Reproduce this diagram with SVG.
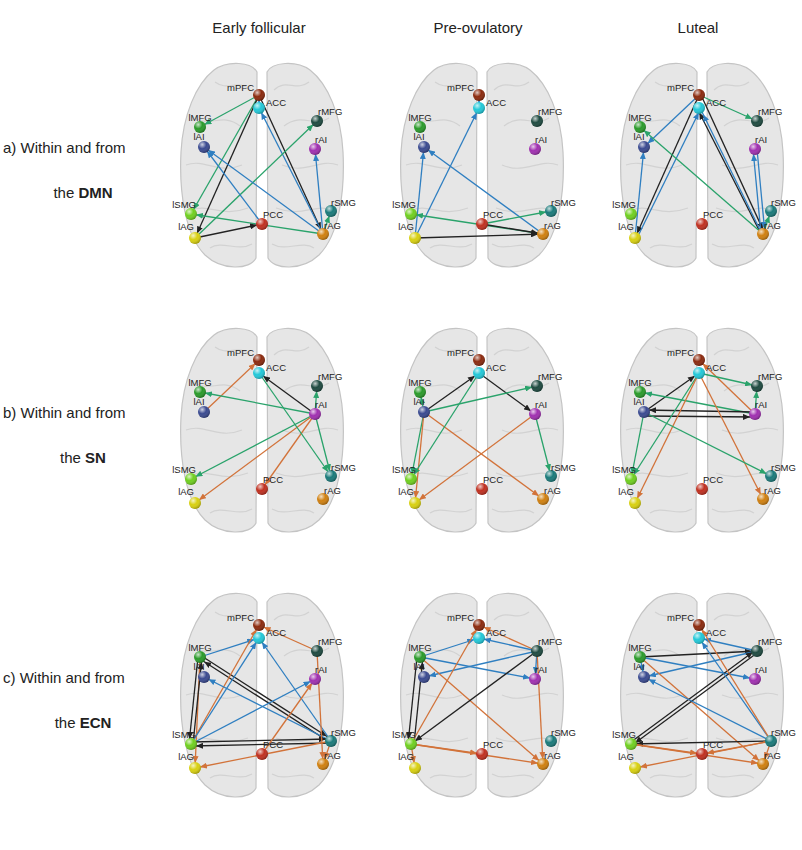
<svg xmlns="http://www.w3.org/2000/svg" xmlns:xlink="http://www.w3.org/1999/xlink" width="802" height="850" viewBox="0 0 802 850">
<style>
.t{font-family:"Liberation Sans",Arial,sans-serif;font-size:15px;fill:#222}
.lb{font-family:"Liberation Sans",Arial,sans-serif;font-size:9.5px;fill:#222}
.hem{fill:#e6e6e6;stroke:#c4c4c4;stroke-width:1.2}
.gy{fill:none;stroke:#d2d2d2;stroke-width:1.2}
line{stroke-width:1.3;fill:none}
.g{stroke:#2aa36b;marker-end:url(#mg)}
.b{stroke:#2f7fc1;marker-end:url(#mb)}
.k{stroke:#222;marker-end:url(#mk)}
.o{stroke:#d2733a;marker-end:url(#mo)}
</style>
<defs>
<marker id="mg" viewBox="0 0 7 6" refX="12" refY="3" markerWidth="7" markerHeight="6" markerUnits="userSpaceOnUse" orient="auto"><path d="M0,0L7,3L0,6z" fill="#2aa36b"/></marker>
<marker id="mb" viewBox="0 0 7 6" refX="12" refY="3" markerWidth="7" markerHeight="6" markerUnits="userSpaceOnUse" orient="auto"><path d="M0,0L7,3L0,6z" fill="#2f7fc1"/></marker>
<marker id="mk" viewBox="0 0 7 6" refX="12" refY="3" markerWidth="7" markerHeight="6" markerUnits="userSpaceOnUse" orient="auto"><path d="M0,0L7,3L0,6z" fill="#222"/></marker>
<marker id="mo" viewBox="0 0 7 6" refX="12" refY="3" markerWidth="7" markerHeight="6" markerUnits="userSpaceOnUse" orient="auto"><path d="M0,0L7,3L0,6z" fill="#d2733a"/></marker>
<radialGradient id="sh" cx="0.35" cy="0.3" r="0.7"><stop offset="0" stop-color="#fff" stop-opacity="0.75"/><stop offset="0.5" stop-color="#fff" stop-opacity="0"/><stop offset="1" stop-color="#000" stop-opacity="0.25"/></radialGradient>
<g id="brain">
<path class="hem" d="M257,72C252,62 228,60 214,70C196,84 183,115 181,152C179,192 185,235 205,255C222,271 250,270 256,258Z"/>
<path class="hem" d="M267,72C272,62 296,60 310,70C328,84 341,115 343,152C345,192 339,235 319,255C302,271 274,270 268,258Z"/>
<path class="gy" d="M215,82C228,92 238,78 250,90M195,118C210,128 222,112 240,126M186,165C205,158 218,175 242,165M192,210C208,203 222,218 248,208M210,248C222,240 238,252 252,244M309,82C296,92 286,78 274,90M329,118C314,128 302,112 284,126M338,165C319,158 306,175 282,165M332,210C316,203 302,218 276,208M314,248C302,240 286,252 272,244"/>
</g>
<g id="n-mPFC"><circle cx="259" cy="95" r="6" fill="#8b2a0e"/><circle cx="259" cy="95" r="6" fill="url(#sh)"/><text class="lb" x="254" y="91" text-anchor="end">mPFC</text></g>
<g id="n-ACC"><circle cx="259" cy="108" r="6" fill="#22c8d8"/><circle cx="259" cy="108" r="6" fill="url(#sh)"/><text class="lb" x="266" y="106">ACC</text></g>
<g id="n-lMFG"><circle cx="200" cy="127" r="6" fill="#2a9a2a"/><circle cx="200" cy="127" r="6" fill="url(#sh)"/><text class="lb" x="200" y="121" text-anchor="middle">lMFG</text></g>
<g id="n-lAI"><circle cx="204" cy="147" r="6" fill="#3a4a90"/><circle cx="204" cy="147" r="6" fill="url(#sh)"/><text class="lb" x="199" y="140" text-anchor="middle">lAI</text></g>
<g id="n-rMFG"><circle cx="317" cy="121" r="6" fill="#1e4a40"/><circle cx="317" cy="121" r="6" fill="url(#sh)"/><text class="lb" x="318" y="115">rMFG</text></g>
<g id="n-rAI"><circle cx="315" cy="149" r="6" fill="#a030b0"/><circle cx="315" cy="149" r="6" fill="url(#sh)"/><text class="lb" x="315" y="143">rAI</text></g>
<g id="n-lSMG"><circle cx="191" cy="214" r="6" fill="#70d020"/><circle cx="191" cy="214" r="6" fill="url(#sh)"/><text class="lb" x="196" y="208" text-anchor="end">lSMG</text></g>
<g id="n-lAG"><circle cx="195" cy="238" r="6" fill="#d8d010"/><circle cx="195" cy="238" r="6" fill="url(#sh)"/><text class="lb" x="194" y="230" text-anchor="end">lAG</text></g>
<g id="n-PCC"><circle cx="262" cy="224" r="6" fill="#c03020"/><circle cx="262" cy="224" r="6" fill="url(#sh)"/><text class="lb" x="263" y="218">PCC</text></g>
<g id="n-rSMG"><circle cx="331" cy="211" r="6" fill="#1a7a7a"/><circle cx="331" cy="211" r="6" fill="url(#sh)"/><text class="lb" x="331" y="206">rSMG</text></g>
<g id="n-rAG"><circle cx="323" cy="234" r="6" fill="#d08010"/><circle cx="323" cy="234" r="6" fill="url(#sh)"/><text class="lb" x="324" y="229">rAG</text></g>
<g id="nodes"><use href="#n-mPFC"/><use href="#n-ACC"/><use href="#n-lMFG"/><use href="#n-lAI"/><use href="#n-rMFG"/><use href="#n-rAI"/><use href="#n-lSMG"/><use href="#n-lAG"/><use href="#n-PCC"/><use href="#n-rSMG"/><use href="#n-rAG"/></g>
</defs>
<rect width="802" height="850" fill="#fff"/>
<g id="titles">
<text class="t" x="259" y="33" text-anchor="middle">Early follicular</text>
<text class="t" x="478" y="33" text-anchor="middle">Pre-ovulatory</text>
<text class="t" x="698" y="33" text-anchor="middle">Luteal</text>
<text class="t" x="3" y="153">a) Within and from</text>
<text class="t" x="83" y="198" text-anchor="middle">the <tspan font-weight="bold">DMN</tspan></text>
<text class="t" x="3" y="418">b) Within and from</text>
<text class="t" x="83" y="463" text-anchor="middle">the <tspan font-weight="bold">SN</tspan></text>
<text class="t" x="3" y="683">c) Within and from</text>
<text class="t" x="83" y="728" text-anchor="middle">the <tspan font-weight="bold">ECN</tspan></text>
</g>
<g id="brains">
<use href="#brain"/><use href="#brain" x="220"/><use href="#brain" x="440"/>
<use href="#brain" y="265"/><use href="#brain" x="220" y="265"/><use href="#brain" x="440" y="265"/>
<use href="#brain" y="530"/><use href="#brain" x="220" y="530"/><use href="#brain" x="440" y="530"/>
</g>
<g id="connectors">
<g id="e-a1">
<line class="g" x1="259" y1="95" x2="200" y2="127"/><line class="g" x1="259" y1="95" x2="191" y2="214"/><line class="k" x1="259" y1="95" x2="195" y2="238"/><line class="b" x1="259" y1="108" x2="259" y2="95"/><line class="k" x1="259" y1="95" x2="323" y2="234"/><line class="b" x1="323" y1="234" x2="259" y2="108"/><line class="g" x1="195" y1="238" x2="317" y2="121"/><line class="b" x1="262" y1="224" x2="204" y2="147"/><line class="b" x1="323" y1="234" x2="204" y2="147"/><line class="b" x1="323" y1="234" x2="315" y2="149"/><line class="g" x1="323" y1="234" x2="331" y2="211"/><line class="g" x1="323" y1="234" x2="191" y2="214"/><line class="k" x1="195" y1="238" x2="262" y2="224"/>
</g>
<g id="e-a2" transform="translate(220,0)">
<line class="b" x1="259" y1="108" x2="259" y2="95"/><line class="b" x1="195" y1="238" x2="204" y2="147"/><line class="b" x1="195" y1="238" x2="259" y2="108"/><line class="b" x1="323" y1="234" x2="204" y2="147"/><line class="g" x1="323" y1="234" x2="191" y2="214"/><line class="g" x1="262" y1="224" x2="331" y2="211"/><line class="k" x1="262" y1="224" x2="323" y2="234"/><line class="k" x1="195" y1="238" x2="323" y2="234"/>
</g>
<g id="e-a3" transform="translate(440,0)">
<line class="g" x1="259" y1="95" x2="317" y2="121"/><line class="b" x1="259" y1="95" x2="204" y2="147"/><line class="k" x1="259" y1="95" x2="195" y2="238"/><line class="b" x1="197" y1="238" x2="261" y2="108"/><line class="b" x1="195" y1="238" x2="204" y2="147"/><line class="k" x1="261" y1="95" x2="325" y2="234"/><line class="k" x1="321" y1="234" x2="257" y2="108"/><line class="b" x1="323" y1="236" x2="261" y2="110"/><line class="b" x1="321" y1="234" x2="313" y2="149"/><line class="b" x1="317" y1="149" x2="325" y2="234"/><line class="g" x1="323" y1="234" x2="200" y2="127"/><line class="g" x1="323" y1="234" x2="331" y2="211"/>
</g>
<g id="e-b1" transform="translate(0,265)">
<line class="o" x1="204" y1="147" x2="259" y2="95"/><line class="k" x1="315" y1="149" x2="259" y2="108"/><line class="g" x1="315" y1="149" x2="200" y2="127"/><line class="g" x1="315" y1="149" x2="317" y2="121"/><line class="g" x1="315" y1="149" x2="191" y2="214"/><line class="o" x1="315" y1="149" x2="195" y2="238"/><line class="o" x1="315" y1="149" x2="262" y2="224"/><line class="g" x1="315" y1="149" x2="331" y2="211"/><line class="g" x1="259" y1="108" x2="331" y2="211"/>
</g>
<g id="e-b2" transform="translate(220,265)">
<line class="k" x1="204" y1="147" x2="259" y2="108"/><line class="k" x1="259" y1="108" x2="315" y2="149"/><line class="g" x1="204" y1="147" x2="317" y2="121"/><line class="g" x1="204" y1="147" x2="200" y2="127"/><line class="g" x1="204" y1="147" x2="191" y2="214"/><line class="o" x1="204" y1="147" x2="195" y2="238"/><line class="o" x1="204" y1="147" x2="323" y2="234"/><line class="g" x1="259" y1="108" x2="191" y2="214"/><line class="o" x1="315" y1="149" x2="195" y2="238"/><line class="g" x1="315" y1="149" x2="331" y2="211"/>
</g>
<g id="e-b3" transform="translate(440,265)">
<line class="k" x1="204" y1="147" x2="259" y2="108"/><line class="o" x1="315" y1="149" x2="259" y2="95"/><line class="g" x1="259" y1="108" x2="317" y2="121"/><line class="g" x1="315" y1="149" x2="317" y2="121"/><line class="g" x1="315" y1="149" x2="200" y2="127"/><line class="k" x1="315" y1="147" x2="204" y2="145"/><line class="k" x1="204" y1="151" x2="315" y2="152"/><line class="g" x1="204" y1="147" x2="191" y2="214"/><line class="g" x1="259" y1="108" x2="191" y2="214"/><line class="o" x1="259" y1="108" x2="195" y2="238"/><line class="o" x1="259" y1="108" x2="323" y2="234"/><line class="g" x1="204" y1="147" x2="331" y2="211"/>
</g>
<g id="e-c1" transform="translate(0,530)">
<line class="o" x1="317" y1="121" x2="259" y2="95"/><line class="b" x1="200" y1="127" x2="259" y2="108"/><line class="o" x1="200" y1="127" x2="195" y2="238"/><line class="k" x1="198" y1="127" x2="189" y2="214"/><line class="k" x1="193" y1="214" x2="202" y2="127"/><line class="k" x1="200" y1="125" x2="331" y2="209"/><line class="k" x1="331" y1="213" x2="200" y2="129"/><line class="o" x1="191" y1="214" x2="259" y2="95"/><line class="b" x1="191" y1="214" x2="259" y2="108"/><line class="b" x1="191" y1="214" x2="315" y2="149"/><line class="b" x1="331" y1="211" x2="204" y2="147"/><line class="b" x1="331" y1="211" x2="259" y2="108"/><line class="k" x1="191" y1="212" x2="331" y2="209"/><line class="k" x1="331" y1="213" x2="191" y2="216"/><line class="o" x1="317" y1="121" x2="323" y2="234"/><line class="o" x1="262" y1="224" x2="315" y2="149"/><line class="o" x1="331" y1="211" x2="195" y2="238"/><line class="o" x1="331" y1="211" x2="323" y2="234"/>
</g>
<g id="e-c2" transform="translate(220,530)">
<line class="o" x1="317" y1="121" x2="259" y2="95"/><line class="b" x1="317" y1="121" x2="259" y2="108"/><line class="b" x1="200" y1="127" x2="259" y2="108"/><line class="b" x1="317" y1="121" x2="204" y2="147"/><line class="b" x1="200" y1="127" x2="315" y2="149"/><line class="b" x1="317" y1="121" x2="315" y2="149"/><line class="o" x1="200" y1="127" x2="323" y2="234"/><line class="k" x1="197" y1="127" x2="188" y2="214"/><line class="k" x1="194" y1="214" x2="203" y2="127"/><line class="k" x1="317" y1="121" x2="191" y2="214"/><line class="o" x1="191" y1="214" x2="259" y2="95"/><line class="o" x1="191" y1="214" x2="195" y2="238"/><line class="o" x1="191" y1="214" x2="262" y2="224"/><line class="o" x1="191" y1="214" x2="323" y2="234"/><line class="o" x1="317" y1="121" x2="323" y2="234"/>
</g>
<g id="e-c3" transform="translate(440,530)">
<line class="k" x1="200" y1="127" x2="317" y2="121"/><line class="b" x1="317" y1="121" x2="259" y2="108"/><line class="b" x1="317" y1="121" x2="204" y2="147"/><line class="b" x1="200" y1="127" x2="315" y2="149"/><line class="b" x1="200" y1="127" x2="204" y2="147"/><line class="o" x1="200" y1="127" x2="323" y2="234"/><line class="k" x1="191" y1="212" x2="317" y2="119"/><line class="k" x1="317" y1="123" x2="191" y2="216"/><line class="b" x1="331" y1="211" x2="259" y2="108"/><line class="o" x1="331" y1="211" x2="259" y2="95"/><line class="b" x1="331" y1="211" x2="204" y2="147"/><line class="k" x1="331" y1="211" x2="191" y2="214"/><line class="o" x1="191" y1="214" x2="262" y2="224"/><line class="o" x1="191" y1="214" x2="323" y2="234"/><line class="o" x1="331" y1="211" x2="262" y2="224"/><line class="o" x1="331" y1="211" x2="195" y2="238"/><line class="o" x1="331" y1="211" x2="323" y2="234"/>
</g>
</g>
<g id="node-layers">
<g id="p-a1"><use href="#nodes"/></g>
<g id="p-a2"><use href="#nodes" x="220"/></g>
<g id="p-a3"><use href="#nodes" x="440"/></g>
<g id="p-b1"><use href="#nodes" y="265"/></g>
<g id="p-b2"><use href="#nodes" x="220" y="265"/></g>
<g id="p-b3"><use href="#nodes" x="440" y="265"/></g>
<g id="p-c1"><use href="#nodes" y="530"/></g>
<g id="p-c2"><use href="#nodes" x="220" y="530"/></g>
<g id="p-c3"><use href="#nodes" x="440" y="530"/></g>
</g>
</svg>
